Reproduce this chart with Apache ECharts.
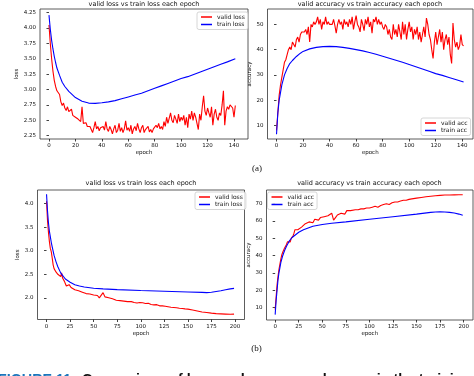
<!DOCTYPE html>
<html>
<head>
<meta charset="utf-8">
<script src="https://cdn.jsdelivr.net/npm/echarts@6/dist/echarts.min.js"></script>
<style>
html, body { margin: 0; padding: 0; background: #fff; }
#chart { width: 474px; height: 376px; }
</style>
</head>
<body>
<div id="chart"></div>
<script>
// (a) top row: 142 epochs
const tlValidLoss = [
	4.05, 3.75, 3.50, 3.30, 3.15, 3.05, 2.98, 2.95, 2.92, 2.80,
	2.74, 2.78, 2.70, 2.66, 2.72, 2.64, 2.62, 2.68, 2.58, 2.60,
	2.55, 2.58, 2.52, 2.50, 2.48, 2.72, 2.45, 2.42, 2.46, 2.40,
	2.38, 2.40, 2.35, 2.30, 2.38, 2.48, 2.36, 2.40, 2.33, 2.38,
	2.36, 2.40, 2.34, 2.48, 2.36, 2.32, 2.40, 2.35, 2.28, 2.36,
	2.42, 2.30, 2.34, 2.45, 2.32, 2.38, 2.30, 2.36, 2.49, 2.34,
	2.38, 2.32, 2.42, 2.28, 2.36, 2.40, 2.33, 2.45, 2.36, 2.30,
	2.38, 2.42, 2.30, 2.35, 2.32, 2.40, 2.31, 2.35, 2.30, 2.36,
	2.34, 2.42, 2.38, 2.45, 2.36, 2.40, 2.35, 2.48, 2.40, 2.55,
	2.45, 2.42, 2.62, 2.50, 2.46, 2.58, 2.52, 2.45, 2.60, 2.48,
	2.55, 2.50, 2.58, 2.42, 2.55, 2.38, 2.60, 2.52, 2.65, 2.50,
	2.62, 2.55, 2.45, 2.35, 2.60, 2.50, 2.72, 2.90, 2.65, 2.58,
	2.70, 2.62, 2.55, 2.72, 2.42, 2.60, 2.68, 2.55, 2.50, 2.62,
	2.58, 2.75, 2.98, 2.42, 2.65, 2.72, 2.68, 2.75, 2.78, 2.70,
	2.55, 2.74
];
const tlTrainEpoch = [0, 1, 2, 3, 4, 5, 6, 8, 10, 12, 15, 18, 20, 25, 30, 35, 40, 45, 50, 55, 60, 65, 70, 75, 80, 85, 90, 95, 100, 105, 110, 115, 120, 125, 130, 135, 141];
const tlTrainLoss = [4.21, 3.98, 3.80, 3.66, 3.54, 3.44, 3.35, 3.23, 3.12, 3.05, 2.97, 2.91, 2.87, 2.81, 2.78, 2.775, 2.785, 2.80, 2.82, 2.85, 2.88, 2.91, 2.94, 2.98, 3.02, 3.06, 3.10, 3.14, 3.18, 3.21, 3.25, 3.29, 3.33, 3.37, 3.41, 3.45, 3.50];

const trValidAcc = [
	8, 15, 22, 26, 29, 32, 35, 36, 38, 40,
	41, 40, 43, 43.5, 41, 44, 45, 43, 46, 47,
	46.5, 47, 48, 46, 49, 43, 50, 49, 51, 50,
	51, 53, 50, 52, 48, 51, 50, 53, 50, 51,
	50, 50.5, 50, 52, 49.5, 46.5, 50, 52, 50, 51,
	48, 52, 50, 51, 49, 52, 50, 53, 48, 51,
	53.5, 50, 49, 47, 52, 50, 47.5, 52, 50, 53,
	49, 51, 46.5, 52, 51, 53, 50, 52, 50, 51,
	49, 48, 50, 49, 46, 48, 45, 44, 50, 46,
	48, 45, 50, 47, 44, 51, 46, 50, 44, 48,
	51, 47, 49, 44, 48, 46, 49, 44, 47, 43,
	46, 49, 45, 52.5, 50, 46, 44, 40, 36.5, 43,
	47, 42, 45, 48, 43, 47, 40, 44, 46, 42,
	45, 38, 34.5, 50.5, 44, 41, 43, 40, 41.5, 46,
	42, 41.5
];
const trTrainEpoch = [0, 1, 2, 3, 4, 5, 6, 8, 10, 12, 15, 18, 20, 25, 30, 35, 40, 45, 50, 55, 60, 65, 70, 75, 80, 85, 90, 95, 100, 105, 110, 115, 120, 125, 130, 135, 141];
const trTrainAcc = [6.5, 15, 20, 23, 26, 28, 30, 32.5, 34.5, 35.7, 37.3, 38.6, 39.3, 40.3, 40.9, 41.2, 41.3, 41.2, 40.9, 40.5, 40.0, 39.5, 38.9, 38.2, 37.4, 36.6, 35.8, 35.0, 34.1, 33.2, 32.3, 31.4, 30.5, 29.8, 29.0, 28.2, 27.2];

// (b) bottom row: 200 epochs
const blValidEpoch = [0, 1, 2, 3, 4, 5, 6, 7, 8, 9, 10, 11, 12, 13, 14, 15, 16, 17, 18, 19, 20, 21, 22, 23, 24, 25, 26, 28, 30, 32, 34, 36, 38, 40, 42, 44, 46, 48, 50, 52, 54, 56, 58, 60, 61, 62, 64, 66, 68, 70, 72, 74, 76, 78, 80, 82, 84, 86, 88, 90, 93, 96, 99, 102, 105, 108, 111, 114, 117, 120, 123, 126, 129, 132, 135, 138, 141, 144, 147, 150, 155, 160, 165, 170, 175, 180, 185, 190, 195, 199];
const blValidLoss = [4.05, 3.65, 3.40, 3.20, 3.05, 2.98, 2.85, 2.70, 2.62, 2.58, 2.55, 2.52, 2.50, 2.47, 2.50, 2.45, 2.53, 2.42, 2.38, 2.35, 2.30, 2.25, 2.22, 2.24, 2.28, 2.26, 2.22, 2.20, 2.17, 2.14, 2.15, 2.11, 2.12, 2.08, 2.09, 2.05, 2.08, 2.04, 2.06, 2.03, 2.05, 2.00, 2.02, 2.11, 2.08, 2.02, 1.99, 2.00, 1.97, 1.98, 1.96, 1.95, 1.97, 1.94, 1.95, 1.93, 1.94, 1.92, 1.91, 1.92, 1.90, 1.89, 1.90, 1.895, 1.88, 1.885, 1.86, 1.85, 1.855, 1.83, 1.83, 1.82, 1.81, 1.80, 1.795, 1.79, 1.78, 1.775, 1.765, 1.76, 1.74, 1.72, 1.70, 1.69, 1.675, 1.665, 1.66, 1.655, 1.65, 1.655];
const blTrainEpoch = [0, 1, 2, 3, 4, 5, 6, 8, 10, 12, 15, 18, 20, 25, 30, 35, 40, 50, 60, 75, 100, 125, 150, 165, 170, 175, 180, 185, 190, 195, 199];
const blTrainLoss = [4.20, 3.85, 3.60, 3.42, 3.30, 3.18, 3.08, 2.90, 2.77, 2.66, 2.53, 2.45, 2.40, 2.33, 2.28, 2.25, 2.23, 2.205, 2.19, 2.175, 2.155, 2.14, 2.125, 2.115, 2.11, 2.12, 2.135, 2.15, 2.17, 2.19, 2.20];

const brValidEpoch = [0, 1, 2, 3, 4, 5, 6, 7, 8, 9, 10, 11, 12, 13, 14, 15, 16, 17, 18, 19, 20, 21, 22, 23, 24, 25, 26, 28, 30, 32, 34, 36, 38, 40, 42, 44, 46, 48, 50, 52, 54, 56, 58, 60, 62, 64, 66, 68, 70, 72, 74, 76, 78, 80, 82, 85, 88, 91, 94, 97, 100, 103, 106, 109, 112, 115, 118, 121, 124, 127, 130, 133, 136, 139, 142, 145, 150, 155, 160, 165, 170, 175, 180, 185, 190, 195, 199];
const brValidAcc = [9, 16, 23, 28, 32, 35, 38, 40.5, 42, 43, 44.5, 45, 46.5, 48, 47, 49, 48, 50, 51, 51.5, 53, 55, 55.5, 56, 55, 56, 54.5, 56.5, 57.5, 58.5, 58, 59.5, 60, 59, 61, 61.5, 60.5, 62, 61.5, 62.5, 61.5, 63, 63.5, 64.5, 60.5, 62, 63.5, 64, 64.5, 65.5, 64, 66, 65, 66, 65.5, 66.5, 66.5, 67, 67, 67.5, 67.5, 68, 68.5, 68, 69, 69.5, 70, 69.5, 70.5, 71, 71, 71.5, 72, 72, 72.5, 72.8, 73.2, 73.6, 74, 74.3, 74.6, 74.8, 75, 75, 75.1, 75.2, 75.2];
const brTrainEpoch = [0, 1, 2, 3, 4, 5, 6, 8, 10, 12, 15, 18, 20, 25, 30, 35, 40, 50, 60, 75, 100, 125, 150, 165, 170, 175, 180, 185, 190, 195, 199];
const brTrainAcc = [6, 14, 20, 26, 30, 33, 36, 40, 43, 45.5, 48.5, 50.5, 51.5, 53.5, 55, 56, 57, 58, 58.7, 59.5, 61, 62.5, 64, 65, 65.2, 65.3, 65.2, 65, 64.6, 64, 63.3];

// tick labels
const xTicksA = [0, 20, 40, 60, 80, 100, 120, 140];
const xTicksB = [0, 25, 50, 75, 100, 125, 150, 175, 200];
const lossTicksA = [2.25, 2.50, 2.75, 3.00, 3.25, 3.50, 3.75, 4.00, 4.25];
const accTicksA = [10, 20, 30, 40, 50];
const lossTicksB = [2.0, 2.5, 3.0, 3.5, 4.0];
const accTicksB = [10, 20, 30, 40, 50, 60, 70];

const titleLoss = "valid loss vs train loss each epoch";
const titleAcc = "valid accuracy vs train accuracy each epoch";

function pairs(xs, ys) {
	return xs.map((x, i) => [x, ys[i]]);
}
function indexed(ys) {
	return ys.map((y, i) => [i, y]);
}

const FONT = "DejaVu Sans";
const INK = "#111";

function makeX(gridIndex, min, max, ticks) {
	return {
		type: "value",
		gridIndex: gridIndex,
		min: min,
		max: max,
		name: "epoch",
		nameLocation: "middle",
		nameGap: 10,
		nameTextStyle: { fontSize: 5.5, color: INK, fontFamily: FONT },
		axisLine: { show: false },
		axisTick: { show: true, length: 2.5, customValues: ticks, lineStyle: { color: INK, width: 0.8 } },
		axisLabel: { customValues: ticks, margin: 4, fontSize: 5.5, color: INK, fontFamily: FONT },
		splitLine: { show: false },
	};
}
function makeY(gridIndex, min, max, ticks, name, nameGap, digits) {
	return {
		type: "value",
		gridIndex: gridIndex,
		min: min,
		max: max,
		name: name,
		nameLocation: "middle",
		nameGap: nameGap,
		nameTextStyle: { fontSize: 5.5, color: INK, fontFamily: FONT },
		axisLine: { show: false },
		axisTick: { show: true, length: 2.5, customValues: ticks, lineStyle: { color: INK, width: 0.8 } },
		axisLabel: {
			customValues: ticks,
			margin: 4,
			fontSize: 5.5,
			color: INK,
			fontFamily: FONT,
			formatter: (v) => v.toFixed(digits),
		},
		splitLine: { show: false },
	};
}
function makeLine(name, data, color, idx) {
	return {
		name: name,
		type: "line",
		xAxisIndex: idx,
		yAxisIndex: idx,
		data: data,
		showSymbol: false,
		symbol: "none",
		lineStyle: { color: color, width: 1.1 },
		itemStyle: { color: color },
		animation: false,
	};
}
function makeLegend(names, pos) {
	return Object.assign({
		data: names,
		orient: "vertical",
		icon: "rect",
		itemWidth: 11,
		itemHeight: 1.5,
		itemGap: 1.5,
		padding: [2, 3, 2, 4],
		borderColor: "#ccc",
		borderWidth: 0.8,
		borderRadius: 2,
		backgroundColor: "rgba(255,255,255,0.85)",
		selectedMode: false,
		textStyle: { fontSize: 6, color: INK, fontFamily: FONT },
	}, pos);
}
function label(text, x, y, font, color) {
	return {
		type: "text",
		x: x,
		y: y,
		style: {
			text: text,
			font: font,
			fill: color || "#111",
			align: "center",
			textAlign: "center",
			verticalAlign: "middle",
			textVerticalAlign: "middle",
		},
	};
}

let myChart = echarts.init(document.getElementById("chart"), null, { renderer: "canvas" });
let gridStyle = { show: true, borderColor: "#333", borderWidth: 0.8, containLabel: false };
let option = {
	backgroundColor: "#fff",
	animation: false,
	textStyle: { fontFamily: FONT },
	grid: [
		Object.assign({ left: 40, top: 9, width: 208, height: 130 }, gridStyle),
		Object.assign({ left: 267.5, top: 9, width: 205.5, height: 130 }, gridStyle),
		Object.assign({ left: 37.5, top: 190, width: 207, height: 129.5 }, gridStyle),
		Object.assign({ left: 266.5, top: 190, width: 206.5, height: 130 }, gridStyle),
	],
	xAxis: [
		makeX(0, -6.8, 150.6, xTicksA),
		makeX(1, -6.8, 148.1, xTicksA),
		makeX(2, -9.6, 210.1, xTicksB),
		makeX(3, -9.2, 209.9, xTicksB),
	],
	yAxis: [
		makeY(0, 2.196, 4.31, lossTicksA, "loss", 17.5, 2),
		makeY(1, 4.6, 56.1, accTicksA, "accuracy", 13.4, 0),
		makeY(2, 1.54, 4.29, lossTicksB, "loss", 15.3, 1),
		makeY(3, 2.9, 77.9, accTicksB, "accuracy", 13.6, 0),
	],
	legend: [
		makeLegend(["valid loss", "train loss"], { left: 197, top: 12 }),
		makeLegend(["valid acc", "train acc"], { left: 421, top: 118 }),
		makeLegend(["valid loss", "train loss"], { left: 195, top: 192 }),
		makeLegend(["valid acc", "train acc"], { left: 267.5, top: 192 }),
	],
	series: [
		makeLine("valid loss", indexed(tlValidLoss), "#ff0000", 0),
		makeLine("train loss", pairs(tlTrainEpoch, tlTrainLoss), "#0000ff", 0),
		makeLine("valid acc", indexed(trValidAcc), "#ff0000", 1),
		makeLine("train acc", pairs(trTrainEpoch, trTrainAcc), "#0000ff", 1),
		makeLine("valid loss", pairs(blValidEpoch, blValidLoss), "#ff0000", 2),
		makeLine("train loss", pairs(blTrainEpoch, blTrainLoss), "#0000ff", 2),
		makeLine("valid acc", pairs(brValidEpoch, brValidAcc), "#ff0000", 3),
		makeLine("train acc", pairs(brTrainEpoch, brTrainAcc), "#0000ff", 3),
	],
	graphic: [
		label(titleLoss, 144, 4.3, "6.5px DejaVu Sans"),
		label(titleAcc, 370, 4.3, "6.5px DejaVu Sans"),
		label(titleLoss, 141, 183.8, "6.5px DejaVu Sans"),
		label(titleAcc, 369.5, 183.8, "6.5px DejaVu Sans"),
		label("(a)", 257, 169, "9px 'Liberation Serif'"),
		label("(b)", 256.5, 349, "9px 'Liberation Serif'"),
		// caption, only its top part shows in the frame
		{
			type: "text",
			x: -2,
			y: 380.5,
			style: {
				text: "FIGURE 11.",
				font: "bold 14.3px 'Liberation Sans Narrow', 'Liberation Sans'",
				fill: "#1b75bc",
				verticalAlign: "middle",
				textVerticalAlign: "middle",
			},
		},
		{
			type: "text",
			x: 82,
			y: 380.5,
			style: {
				text: "Comparison of loss and accuracy changes in the training",
				font: "bold 14.3px 'Liberation Sans'",
				fill: "#111",
				verticalAlign: "middle",
				textVerticalAlign: "middle",
			},
		},
	],
};
myChart.setOption(option);
</script>
</body>
</html>
